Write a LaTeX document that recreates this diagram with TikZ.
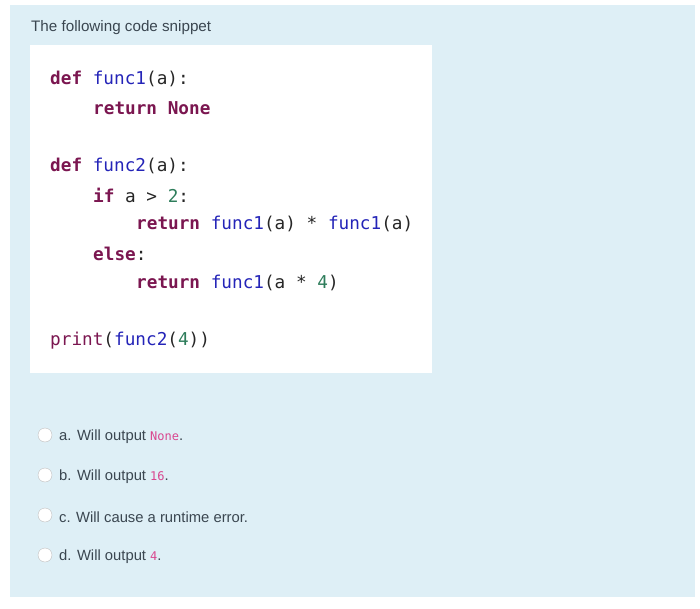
\documentclass[tikz,border=0pt]{standalone}
\usepackage{fontspec}
\setmainfont{Liberation Sans}
\setmonofont{DejaVu Sans Mono}
\definecolor{panel}{HTML}{DEEFF6}
\definecolor{kw}{HTML}{7B1650}
\definecolor{fn}{HTML}{2424B8}
\definecolor{num}{HTML}{2E7D5B}
\definecolor{txt}{HTML}{3A4650}
\definecolor{pink}{HTML}{D9468F}
\newcommand{\K}[1]{\textcolor{kw}{\textbf{#1}}}
\newcommand{\F}[1]{\textcolor{fn}{#1}}
\newcommand{\N}[1]{\textcolor{num}{#1}}
\newcommand{\Pk}[1]{\textcolor{pink}{\ttfamily\fontsize{12}{13}\selectfont #1}}
\begin{document}
\begin{tikzpicture}[x=1pt,y=-1pt,
  code/.style={anchor=west,inner sep=0,font=\ttfamily\fontsize{17.7}{20}\selectfont,text=black!85},
  opt/.style={anchor=west,inner sep=0,font=\fontsize{14.8}{16}\selectfont,text=txt},
  radio/.style={circle,draw=black!25,fill=white,minimum size=14,inner sep=0}]
\useasboundingbox (0,0) rectangle (700,609);
\fill[white] (0,0) rectangle (700,609);
\fill[panel] (10,5) rectangle (695,597);
\node[anchor=west,inner sep=0,font=\fontsize{15.2}{18}\selectfont,text=txt] (title) at (31,28) {The following code snippet};
\fill[white] (30,45) rectangle (432,373);
\node[code] (l1) at (50,79) {\K{def} \F{func1}(a):};
\node[code] (l2) at (93,108) {\K{return} \K{None}};
\node[code] (l3) at (50,166) {\K{def} \F{func2}(a):};
\node[code] (l4) at (93,195) {\K{if} a > \N{2}:};
\node[code] (l5) at (136,224) {\K{return} \F{func1}(a) * \F{func1}(a)};
\node[code] (l6) at (93,254) {\K{else}:};
\node[code] (l7) at (136,283) {\K{return} \F{func1}(a * \N{4})};
\node[code] (l8) at (50,341) {\textcolor{kw}{print}(\F{func2}(\N{4}))};
\node[radio] (ra) at (45,435) {};
\node[radio] (rb) at (45,475) {};
\node[radio] (rc) at (45,515) {};
\node[radio] (rd) at (45,555) {};
\node[opt] (oa) at (59,437) {a. Will output \Pk{None}.};
\node[opt] (ob) at (59,477) {b. Will output \Pk{16}.};
\node[opt] (oc) at (59,517) {c. Will cause a runtime error.};
\node[opt] (od) at (59,557) {d. Will output \Pk{4}.};
\end{tikzpicture}
\end{document}
